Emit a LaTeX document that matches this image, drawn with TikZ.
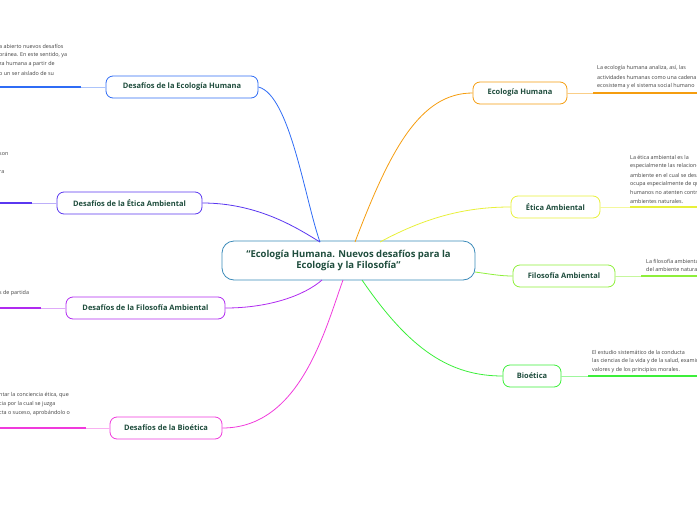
\documentclass[tikz,border=0pt]{standalone}
\usepackage{fontspec}
\setmainfont{Open Sans}
\definecolor{ctext}{HTML}{1F4D3D}
\definecolor{corange}{HTML}{F59D0F}
\definecolor{cyellow}{HTML}{E8F03A}
\definecolor{clgreen}{HTML}{8EEF3A}
\definecolor{cgreen}{HTML}{3CEF3A}
\definecolor{cblue}{HTML}{2F6CF5}
\definecolor{cviolet}{HTML}{5A37F0}
\definecolor{cpurple}{HTML}{B02AF0}
\definecolor{cmagenta}{HTML}{F03ADC}
\definecolor{ccenter}{HTML}{3A8AB8}
\tikzset{
 topic/.style={draw=#1, line width=0.8pt, rounded corners=7pt, fill=white, minimum height=22pt, inner xsep=6pt, font=\bfseries\fontsize{7.5}{9}\selectfont, text=ctext, anchor=center},
 note/.style={font=\fontsize{5.4}{6}\selectfont, text=black!75, inner sep=0pt},
 conn/.style={draw=#1, line width=0.8pt},
}
\begin{document}
\begin{tikzpicture}[x=1pt,y=-1pt]
\useasboundingbox (0,0) rectangle (697,520);
\clip (0,0) rectangle (697,520);
% centre
\node[draw=ccenter, line width=0.8pt, rounded corners=12pt, minimum width=253pt, minimum height=39pt, align=center, font=\bfseries\fontsize{9.5}{11.5}\selectfont, text=ctext] (c) at (348.5,260.5) {“Ecología Humana. Nuevos desafíos para la\\Ecología y la Filosofía”};
% right topics
\node[topic=corange, minimum width=94pt] (eh) at (520,93) {Ecología Humana};
\node[topic=cyellow, minimum width=89pt] (ea) at (555.5,207) {Ética Ambiental};
\node[topic=clgreen, minimum width=102pt] (fa) at (564,276) {Filosofía Ambiental};
\node[topic=cgreen, minimum width=58pt] (bi) at (532,376) {Bioética};
% left topics
\node[topic=cblue, minimum width=152pt] (deh) at (182,87) {Desafíos de la Ecología Humana};
\node[topic=cviolet, minimum width=145pt] (dea) at (129.5,203) {Desafíos de la Ética Ambiental};
\node[topic=cpurple, minimum width=159pt] (dfa) at (145.5,308) {Desafíos de la Filosofía Ambiental};
\node[topic=cmagenta, minimum width=112pt] (dbi) at (166,428) {Desafíos de la Bioética};
% connectors
\draw[conn=corange] (355,242) .. controls (390,150) and (420,93) .. (eh.west);
\draw[conn=cyellow] (380,242) .. controls (430,215) and (470,207) .. (ea.west);
\draw[conn=clgreen] (475,272) .. controls (490,274) and (500,276) .. (fa.west);
\draw[conn=cgreen] (362,280) .. controls (410,350) and (450,376) .. (bi.west);
\draw[conn=cblue] (deh.east) .. controls (290,95) and (305,200) .. (320,242);
\draw[conn=cviolet] (dea.east) .. controls (260,203) and (300,230) .. (320,242);
\draw[conn=cpurple] (dfa.east) .. controls (270,308) and (305,295) .. (322,280);
\draw[conn=cmagenta] (dbi.east) .. controls (300,428) and (325,330) .. (343,280);
% branch lines
\coordinate (r1) at (593,93); \coordinate (r1e) at (697,93);
\draw[corange!50, line width=0.8pt] (eh.east) -- (r1); \draw[corange, line width=1.5pt] (r1) -- (r1e);
\coordinate (r2) at (630,207); \coordinate (r2e) at (697,207);
\draw[cyellow!50, line width=0.8pt] (ea.east) -- (r2); \draw[cyellow, line width=1.5pt] (r2) -- (r2e);
\coordinate (r3) at (641,276); \coordinate (r3e) at (697,276);
\draw[clgreen!50, line width=0.8pt] (fa.east) -- (r3); \draw[clgreen, line width=1.5pt] (r3) -- (r3e);
\coordinate (r4) at (588,376); \coordinate (r4e) at (697,376);
\draw[cgreen!50, line width=0.8pt] (bi.east) -- (r4); \draw[cgreen, line width=1.5pt] (r4) -- (r4e);
\coordinate (l1) at (81,87); \coordinate (l1e) at (0,87);
\draw[cblue!40, line width=0.8pt] (deh.west) -- (l1); \draw[cblue, line width=1.5pt] (l1) -- (l1e);
\coordinate (l2) at (32,203); \coordinate (l2e) at (0,203);
\draw[cviolet!40, line width=0.8pt] (dea.west) -- (l2); \draw[cviolet, line width=1.5pt] (l2) -- (l2e);
\coordinate (l3) at (41,308); \coordinate (l3e) at (0,308);
\draw[cpurple!40, line width=0.8pt] (dfa.west) -- (l3); \draw[cpurple, line width=1.5pt] (l3) -- (l3e);
\coordinate (l4) at (86,428); \coordinate (l4e) at (0,428);
\draw[cmagenta!40, line width=0.8pt] (dbi.west) -- (l4); \draw[cmagenta, line width=1.5pt] (l4) -- (l4e);
% notes right
\node[note, anchor=west] (n1a) at (597,68) {La ecología humana analiza, así, las};
\node[note, anchor=west] (n1b) at (597,77) {actividades humanas como una cadena};
\node[note, anchor=west] (n1c) at (597,86) {ecosistema y el sistema social humano};
\node[note, anchor=west] (n2a) at (630,157) {La ética ambiental es la};
\node[note, anchor=west] (n2b) at (630,166) {especialmente las relaciones};
\node[note, anchor=west] (n2c) at (630,175) {ambiente en el cual se desarrolla};
\node[note, anchor=west] (n2d) at (630,184) {ocupa especialmente de que};
\node[note, anchor=west] (n2e) at (630,192) {humanos no atenten contra los};
\node[note, anchor=west] (n2f) at (630,201) {ambientes naturales.};
\node[note, anchor=west] (n3a) at (646,261) {La filosofía ambiental};
\node[note, anchor=west] (n3b) at (646,269) {del ambiente natural};
\node[note, anchor=west] (n4a) at (592,352) {El estudio sistemático de la conducta};
\node[note, anchor=west] (n4b) at (592,361) {las ciencias de la vida y de la salud, examinada};
\node[note, anchor=west] (n4c) at (592,370) {valores y de los principios morales.};
% notes left
\node[note, anchor=west] (m1a) at (-1,46) {a abierto nuevos desafíos};
\node[note, anchor=west] (m1b) at (-1,55) {oránea. En este sentido, ya};
\node[note, anchor=west] (m1c) at (-1,64) {za humana a partir de};
\node[note, anchor=west] (m1d) at (-1,73) {o un ser aislado de su};
\node[note, anchor=west] (m2a) at (-1,154) {son};
\node[note, anchor=west] (m2b) at (-1,172) {ra};
\node[note, anchor=west] (m3a) at (-1,293) {s de partida};
\node[note, anchor=west] (m4a) at (-1,395) {ntar la conciencia ética, que};
\node[note, anchor=west] (m4b) at (-1,404) {cia por la cual se juzga};
\node[note, anchor=west] (m4c) at (-1,413) {cta o suceso, aprobándolo o};
\end{tikzpicture}
\end{document}
